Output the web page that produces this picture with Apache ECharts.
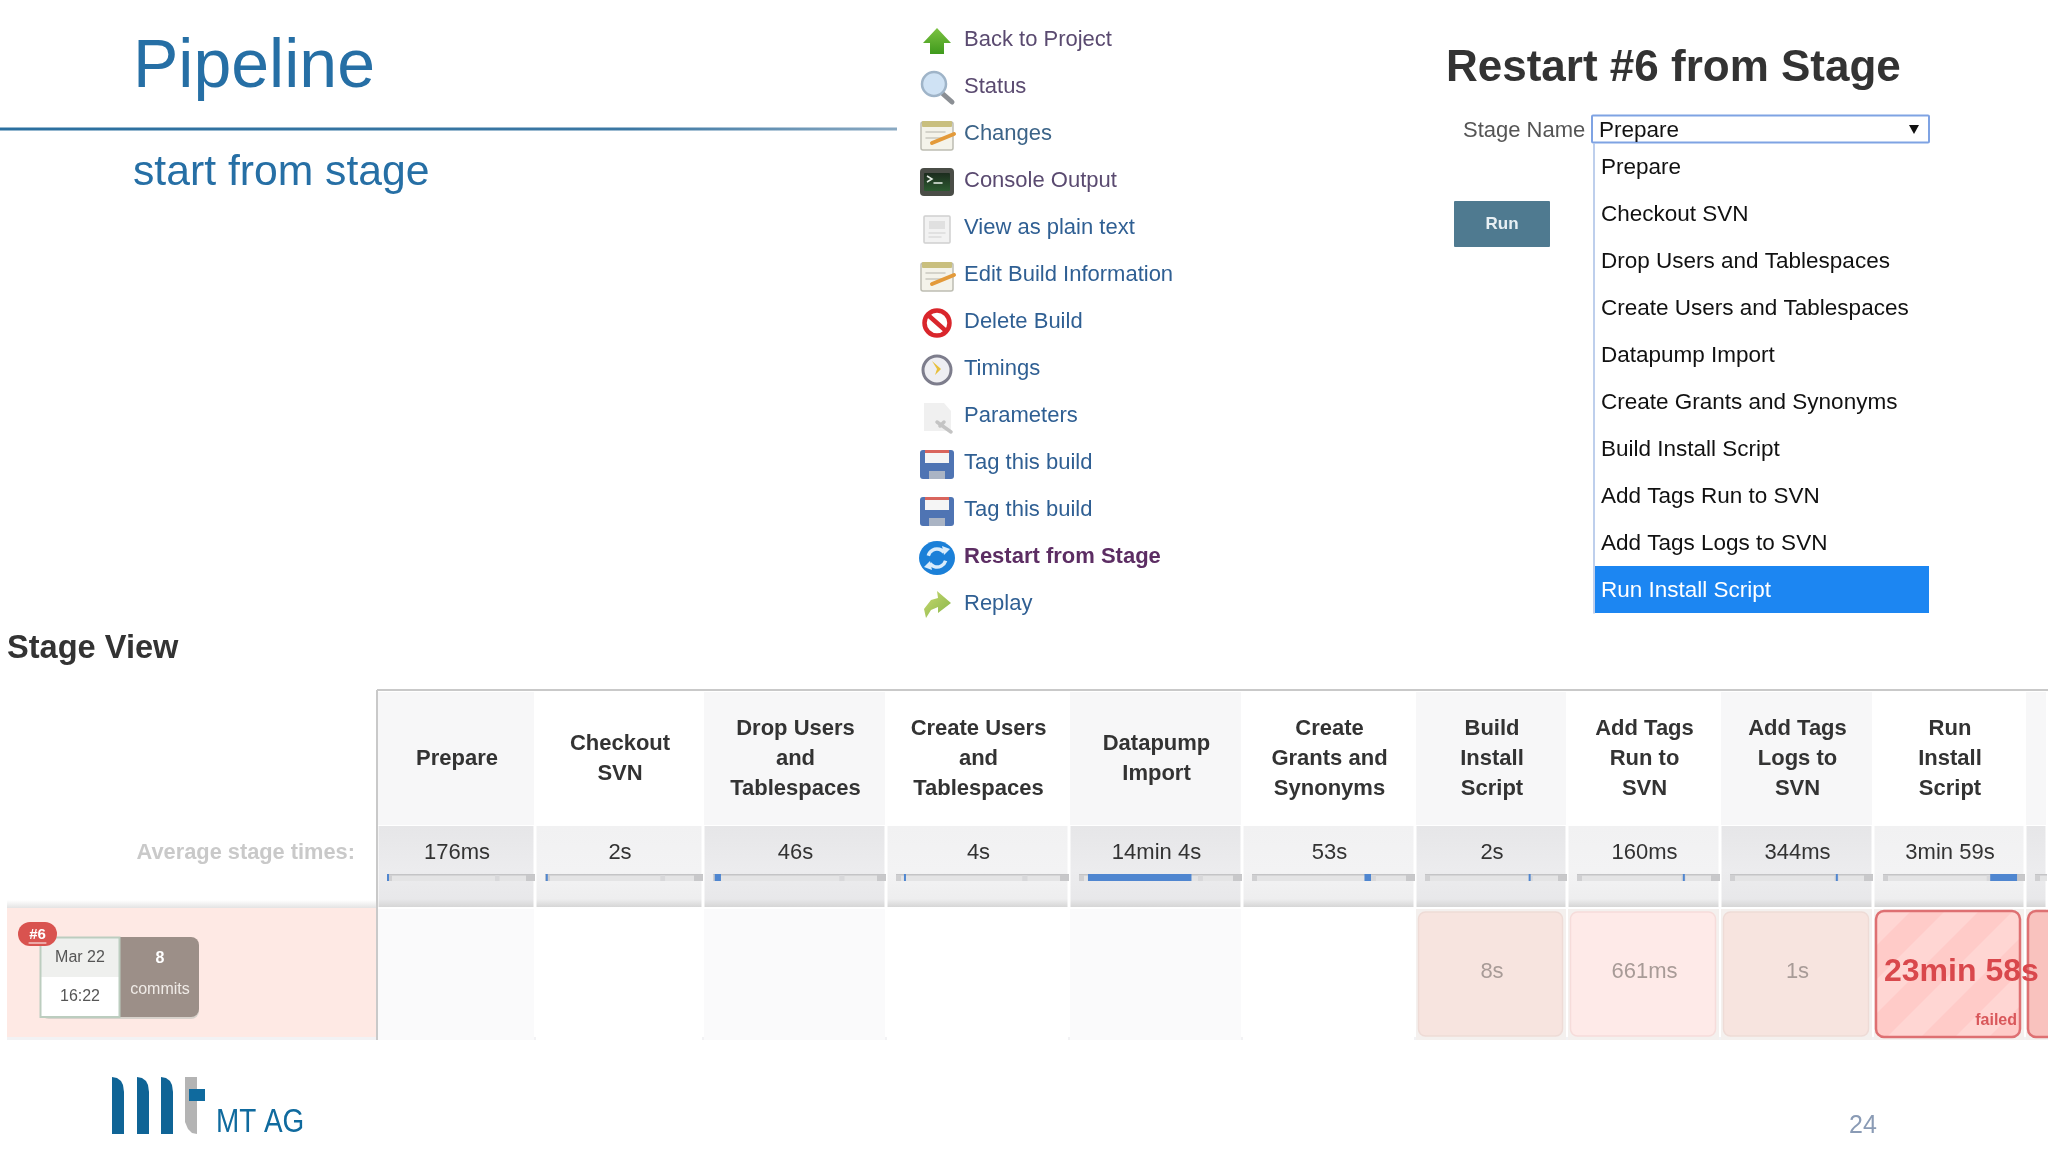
<!DOCTYPE html>
<html>
<head>
<meta charset="utf-8">
<title>Pipeline - start from stage</title>
<script src="https://cdn.jsdelivr.net/npm/echarts@6/dist/echarts.min.js"></script>
<style>
html, body { margin: 0; padding: 0; background: #fff; }
#container { width: 2048px; height: 1152px; }
</style>
</head>
<body>
<div id="container"></div>
<script>
// table data
var stages = ['Prepare', 'Checkout\nSVN', 'Drop Users\nand\nTablespaces', 'Create Users\nand\nTablespaces', 'Datapump\nImport', 'Create\nGrants and\nSynonyms', 'Build\nInstall\nScript', 'Add Tags\nRun to\nSVN', 'Add Tags\nLogs to\nSVN', 'Run\nInstall\nScript', ''];
var avgTimes = ['176ms', '2s', '46s', '4s', '14min 4s', '53s', '2s', '160ms', '344ms', '3min 59s', ''];
// where each stage sits on the run timeline, in percent
var timelineStart = [0, 0.5, 1, 4.6, 5.5, 69, 73, 74, 74, 75.5, 0];
var timelineEnd = [0.5, 1, 4.6, 5.5, 69, 73, 74, 74.5, 74.5, 94.4, 0];
var runTimes = ['', '', '', '', '', '', '8s', '661ms', '1s', '23min 58s', ''];
var runStatus = ['none', 'none', 'none', 'none', 'none', 'none', 'ok', 'ok', 'ok', 'failed', 'failed'];
var menuItems = ['Back to Project', 'Status', 'Changes', 'Console Output', 'View as plain text', 'Edit Build Information', 'Delete Build', 'Timings', 'Parameters', 'Tag this build', 'Tag this build', 'Restart from Stage', 'Replay'];
var menuIcons = ['arrow', 'search', 'note', 'terminal', 'doc', 'note', 'stop', 'clock', 'param', 'floppy', 'floppy', 'restart', 'replay'];
var menuColors = ['#5a4a70', '#5a4a70', '#3c6488', '#5a4a70', '#2f5f93', '#2f5f93', '#2f5f93', '#2f5f93', '#2f5f93', '#2f5f93', '#2f5f93', '#5c2d63', '#2f5f93'];
var stageOptions = ['Prepare', 'Checkout SVN', 'Drop Users and Tablespaces', 'Create Users and Tablespaces', 'Datapump Import', 'Create Grants and Synonyms', 'Build Install Script', 'Add Tags Run to SVN', 'Add Tags Logs to SVN', 'Run Install Script'];

// layout of the table, in px of the axes
var colWidths = [158, 168, 183, 183, 173, 173, 152, 153, 153, 152, 22];
var rowEdges = [0, 135, 217, 350];

var FONT = '"Liberation Sans", Arial, sans-serif';
var LG = echarts.graphic.LinearGradient;

function stripes() {
	var size = 68;
	var c = document.createElement('canvas');
	c.width = size;
	c.height = size;
	var g = c.getContext('2d');
	g.fillStyle = '#ffcbc8';
	g.fillRect(0, 0, size, size);
	g.fillStyle = '#ffd6d3';
	for (var k = -1; k < 2; k++) {
		var o = k * size;
		g.beginPath();
		g.moveTo(o, size);
		g.lineTo(o + size, 0);
		g.lineTo(o + size + size / 2, 0);
		g.lineTo(o + size / 2, size);
		g.closePath();
		g.fill();
	}
	return c;
}
var stripeTile = stripes();

var colStart = [];
var sum = 0;
for (var i = 0; i < colWidths.length; i++) {
	colStart.push(sum);
	sum += colWidths[i];
}
var rows = stages.map(function (s, i) {
	return [colStart[i], colStart[i] + colWidths[i], timelineStart[i], timelineEnd[i]];
});

function renderCells(params, api) {
	var i = params.dataIndex;
	var odd = i % 2 == 0;
	var a = api.coord([api.value(0), rowEdges[0]]);
	var b = api.coord([api.value(1), rowEdges[1]]);
	var c = api.coord([api.value(1), rowEdges[2]]);
	var d = api.coord([api.value(1), rowEdges[3]]);
	var x = a[0], w = b[0] - a[0];
	var kids = [];
	// header
	kids.push({ type: 'rect', shape: { x: x + 1, y: a[1] + 2, width: w - 2, height: b[1] - a[1] - 2 }, style: { fill: odd ? '#f7f7f8' : '#fff' } });
	// average row
	kids.push({ type: 'rect', shape: { x: x + 1.5, y: b[1] + 1, width: w - 3, height: c[1] - b[1] - 1 }, style: {
		fill: new LG(0, 0, 0, 1, [
			{ offset: 0, color: odd ? '#e6e6e8' : '#f1f1f2' },
			{ offset: 0.55, color: odd ? '#ececee' : '#f3f3f4' },
			{ offset: 0.9, color: odd ? '#e8e8ea' : '#eeeeef' },
			{ offset: 1, color: '#d6d6d6' }
		])
	} });
	// timeline track
	var tx = x + 10, tw = w - 10;
	kids.push({ type: 'rect', shape: { x: tx, y: 874, width: tw, height: 7 }, style: { fill: '#e4e4e5' } });
	kids.push({ type: 'rect', shape: { x: tx, y: 874, width: tw, height: 1.5 }, style: { fill: '#c4c4c6' } });
	kids.push({ type: 'rect', shape: { x: tx, y: 875, width: 5, height: 6 }, style: { fill: '#cfcfd1' } });
	if (w > 30) {
		kids.push({ type: 'rect', shape: { x: tx + tw - 9, y: 875, width: 9, height: 6 }, style: { fill: '#c8c8ca' } });
		kids.push({ type: 'rect', shape: { x: tx + tw * 0.73, y: 875, width: tw * 0.03, height: 6 }, style: { fill: '#d8d8da' } });
	}
	var s = api.value(2), e = api.value(3);
	if (e > s) {
		kids.push({ type: 'rect', shape: { x: tx + tw * s / 100, y: 874, width: Math.max(2, tw * (e - s) / 100), height: 7 }, style: { fill: '#4f86d0' } });
	}
	// run row
	var st = runStatus[i];
	kids.push({ type: 'rect', shape: { x: x + 1, y: c[1] + 2, width: w - 2, height: d[1] - c[1] - 2 }, style: { fill: st == 'none' ? (odd ? '#fafafb' : '#fff') : '#f4f0ee' } });
	if (st == 'ok') {
		kids.push({ type: 'rect', shape: { x: x + 3.5, y: 912, width: w - 8, height: 124, r: 7 }, style: { fill: odd ? '#f7e4df' : '#feeae8', stroke: odd ? '#eedbd6' : '#f6dcda', lineWidth: 1.5 } });
	} else if (st == 'failed') {
		var rw = (i == stages.length - 1) ? w + 10 : w - 8;
		kids.push({ type: 'rect', shape: { x: x + 3, y: 911, width: rw, height: 126, r: 8 }, style: {
			fill: i == stages.length - 1 ? '#f9c2be' : { image: stripeTile, repeat: 'repeat' },
			stroke: '#de7072', lineWidth: 2.5
		} });
	}
	return { type: 'group', children: kids };
}

function renderLabels(params, api) {
	var i = params.dataIndex;
	var x0 = api.coord([api.value(0), 0])[0];
	var w = api.coord([api.value(1), 0])[0] - x0;
	var cx = x0 + w / 2 + 1;
	var kids = [];
	var headY = api.coord([0, (rowEdges[0] + rowEdges[1]) / 2])[1];
	kids.push({ type: 'text', style: { x: cx, y: headY + 1.5, text: stages[i], align: 'center', verticalAlign: 'middle', fontFamily: FONT, fontWeight: 'bold', fontSize: 22, lineHeight: 30, fill: '#333' } });
	kids.push({ type: 'text', style: { x: cx, y: 853, text: avgTimes[i], align: 'center', verticalAlign: 'middle', fontFamily: FONT, fontSize: 22, fill: '#333' } });
	if (runStatus[i] == 'ok') {
		kids.push({ type: 'text', style: { x: cx, y: 972, text: runTimes[i], align: 'center', verticalAlign: 'middle', fontFamily: FONT, fontSize: 22, fill: '#a89b97' } });
	} else if (runTimes[i]) {
		kids.push({ type: 'text', style: { x: x0 + 11, y: 972, text: runTimes[i], align: 'left', verticalAlign: 'middle', fontFamily: FONT, fontWeight: 'bold', fontSize: 32, fill: '#d9484c' } });
		kids.push({ type: 'text', style: { x: x0 + w - 8, y: 1021, text: 'failed', align: 'right', verticalAlign: 'middle', fontFamily: FONT, fontWeight: 'bold', fontSize: 16, fill: '#d9575a' } });
	}
	return { type: 'group', children: kids };
}

function txt(x, y, text, size, color, extra) {
	var style = { x: x, y: y, text: text, fontFamily: FONT, fontSize: size, fill: color, align: 'left', verticalAlign: 'middle' };
	for (var k in (extra || {})) {
		style[k] = extra[k];
	}
	return { type: 'text', silent: true, style: style };
}
function box(x, y, w, h, fill, r, stroke, lw) {
	return { type: 'rect', silent: true, shape: { x: x, y: y, width: w, height: h, r: r || 0 }, style: { fill: fill, stroke: stroke || null, lineWidth: lw || 0 } };
}
function seg(x1, y1, x2, y2, color, lw) {
	return { type: 'line', silent: true, shape: { x1: x1, y1: y1, x2: x2, y2: y2 }, style: { stroke: color, lineWidth: lw, lineCap: 'round' } };
}
function poly(points, fill) {
	return { type: 'polygon', silent: true, shape: { points: points }, style: { fill: fill } };
}

// the small Jenkins icons of the side menu
function icon(kind, cx, cy) {
	var c = [];
	if (kind == 'arrow') {
		c.push(poly([[0, -13], [14, 2], [7, 2], [7, 13], [-7, 13], [-7, 2], [-14, 2]], new LG(0, 0, 0, 1, [{ offset: 0, color: '#7cc242' }, { offset: 1, color: '#3f9a1c' }])));
	} else if (kind == 'search') {
		c.push(seg(6, 6, 15, 14, '#8b8f94', 5));
		c.push({ type: 'circle', silent: true, shape: { cx: -3, cy: -4, r: 12 }, style: { fill: '#cfe2f4', stroke: '#9fb4c8', lineWidth: 2.5 } });
	} else if (kind == 'note') {
		c.push(box(-16, -13, 32, 28, '#f4f3ea', 2, '#bdbdb2', 1.5));
		c.push(box(-15, -14, 30, 6, '#c9bf7e', 1));
		c.push(seg(-11, -3, 8, -3, '#c9c9c0', 1.5));
		c.push(seg(-11, 3, 4, 3, '#c9c9c0', 1.5));
		c.push(seg(-5, 8, 17, -1, '#e39a3a', 4));
	} else if (kind == 'terminal') {
		c.push(box(-17, -14, 34, 28, '#4a4d47', 4));
		c.push(box(-13, -9, 26, 18, new LG(0, 0, 0, 1, [{ offset: 0, color: '#1c2c1e' }, { offset: 1, color: '#2c5a30' }]), 1));
		c.push({ type: 'polyline', silent: true, shape: { points: [[-10, -6], [-5, -3], [-10, 0]] }, style: { stroke: '#e8efe8', lineWidth: 1.5, fill: null } });
		c.push(seg(-3, 1, 5, 1, '#e8efe8', 1.5));
	} else if (kind == 'doc') {
		c.push(box(-13, -13, 26, 27, '#f2f2f2', 1, '#d0d0d0', 1.5));
		c.push(box(-8, -8, 16, 8, '#e0e0e0'));
		c.push(seg(-8, 4, 8, 4, '#dcdcdc', 1.5));
		c.push(seg(-8, 8, 4, 8, '#dcdcdc', 1.5));
	} else if (kind == 'stop') {
		c.push({ type: 'circle', silent: true, shape: { cx: 0, cy: 0, r: 12.5 }, style: { fill: '#fff', stroke: '#d9262c', lineWidth: 4.5 } });
		c.push(seg(-9, -8, 9, 8, '#d9262c', 4.5));
	} else if (kind == 'clock') {
		c.push({ type: 'circle', silent: true, shape: { cx: 0, cy: 0, r: 14 }, style: { fill: '#eeeef2', stroke: '#7d7d8c', lineWidth: 3 } });
		c.push(poly([[-5, -9], [4, -1], [-2, 5], [0, -1]], '#e8bf3a'));
	} else if (kind == 'param') {
		c.push(poly([[-13, -14], [7, -14], [14, -6], [14, 14], [-13, 14]], '#f0f0f0'));
		c.push(seg(0, 5, 14, 15, '#c4c4c4', 3.5));
		c.push(seg(3, 9, 7, 5, '#c4c4c4', 3.5));
	} else if (kind == 'floppy') {
		c.push(box(-17, -14, 34, 29, '#4f74b3', 3));
		c.push(box(-12, -14, 24, 13, '#f5f5f5'));
		c.push(box(-12, -14, 24, 3, '#d9655d'));
		c.push(box(-8, 7, 16, 8, '#aab4c4'));
	} else if (kind == 'restart') {
		c.push({ type: 'ellipse', silent: true, shape: { cx: 0, cy: 0, rx: 18, ry: 17 }, style: { fill: '#1b80d8' } });
		c.push({ type: 'arc', silent: true, shape: { cx: 0, cy: 0, r: 9, startAngle: 3.4, endAngle: 5.6 }, style: { stroke: '#d9ecfb', lineWidth: 3.5, fill: null } });
		c.push({ type: 'arc', silent: true, shape: { cx: 0, cy: 0, r: 9, startAngle: 0.3, endAngle: 2.5 }, style: { stroke: '#d9ecfb', lineWidth: 3.5, fill: null } });
		c.push(poly([[5, -12], [13, -9], [7, -3]], '#d9ecfb'));
		c.push(poly([[-5, 12], [-13, 9], [-7, 3]], '#d9ecfb'));
	} else if (kind == 'replay') {
		c.push(poly([[0, -14], [14, -2], [1, 8], [1, 2], [-6, 5], [-11, 13], [-13, 4], [-6, -5], [1, -7]], new LG(0, 0, 1, 1, [{ offset: 0, color: '#c9d96f' }, { offset: 1, color: '#86b54a' }])));
	}
	return { type: 'group', silent: true, x: cx, y: cy, children: c };
}

function logoBar(x, fill) {
	return poly([[x, 1077], [x + 5, 1078], [x + 9, 1081], [x + 11, 1085], [x + 12, 1092], [x + 12, 1134], [x, 1134]], fill);
}

function slideGraphics() {
	var g = [];
	// slide head
	g.push(txt(133, 68, 'Pipeline', 68, '#266fa5'));
	g.push(box(0, 127.5, 897, 3, new LG(0, 0, 1, 0, [{ offset: 0, color: '#2a6f9f' }, { offset: 0.7, color: '#3b77a3' }, { offset: 1, color: '#8aa9c2' }])));
	g.push(txt(133, 173, 'start from stage', 42.7, '#266fa5'));
	// side menu
	menuItems.forEach(function (m, i) {
		var y = 40 + 47 * i;
		g.push(icon(menuIcons[i], 937, y + 1));
		g.push(txt(964, y, m, 22, menuColors[i], m == 'Restart from Stage' ? { fontWeight: 'bold' } : {}));
	});
	// restart form
	g.push(txt(1446, 69, 'Restart #6 from Stage', 44, '#333', { fontWeight: 'bold' }));
	g.push(txt(1463, 130.5, 'Stage Name', 22, '#555'));
	g.push(box(1592, 115.5, 337, 27, '#fff', 1, '#7fa3e3', 2));
	g.push(txt(1599, 130.5, 'Prepare', 22.5, '#111'));
	g.push(poly([[1909, 125], [1919, 125], [1914, 134]], '#111'));
	g.push(box(1454, 201, 96, 46, '#4f7a90', 1));
	g.push(txt(1502, 224, 'Run', 17, '#e8f0f4', { fontWeight: 'bold', align: 'center' }));
	g.push(seg(1594, 144, 1594, 613, '#a9bfe6', 1.5));
	g.push(box(1595, 566, 334, 47, '#1c86f2'));
	stageOptions.forEach(function (o, i) {
		g.push(txt(1601, 167.5 + 47 * i, o, 22.5, i == stageOptions.length - 1 ? '#fff' : '#111'));
	});
	// left part of the stage view
	g.push(txt(7, 649, 'Stage View', 32.6, '#333', { fontWeight: 'bold' }));
	g.push(txt(355, 852.5, 'Average stage times:', 21.8, '#c9c9c9', { fontWeight: 'bold', align: 'right' }));
	g.push(box(7, 900, 370, 8, new LG(0, 0, 0, 1, [{ offset: 0, color: '#fff' }, { offset: 1, color: '#e3e3e3' }])));
	g.push(box(7, 908, 370, 129, '#fee9e4'));
	g.push(box(7, 1037, 2041, 3, '#f2f2f4'));
	// build card
	g.push(box(41, 940, 158, 79, '#d8d2cc', 8));
	g.push(box(120, 937, 79, 80, '#9c8f88', 8));
	g.push(box(120, 937, 10, 80, '#9c8f88'));
	g.push(box(40, 937, 80, 40, '#eff0ee'));
	g.push(box(40, 977, 80, 40, '#fff'));
	g.push(box(40.5, 937.5, 79, 79.5, 'rgba(0,0,0,0)', 0, '#bccdbf', 2));
	g.push(txt(80, 958, 'Mar 22', 16, '#555', { align: 'center' }));
	g.push(txt(80, 997, '16:22', 16, '#555', { align: 'center' }));
	g.push(txt(160, 959, '8', 16, '#fff', { fontWeight: 'bold', align: 'center' }));
	g.push(txt(160, 990, 'commits', 16, '#f0ebe7', { align: 'center' }));
	g.push(box(18, 922, 39, 24, '#d9534f', 12));
	g.push(txt(37.5, 935, '#6', 15, '#fff', { fontWeight: 'bold', align: 'center' }));
	g.push(seg(29, 943, 46, 943, '#fff', 1));
	// logo and page number
	g.push(logoBar(112, '#0f6496'));
	g.push(logoBar(137, '#0f6496'));
	g.push(logoBar(161, '#0f6496'));
	g.push(poly([[185, 1077], [197, 1077], [197, 1134], [192, 1133], [188, 1129], [185, 1122]], '#b4b4b4'));
	g.push(box(189, 1089, 16, 12, '#0f6a9e'));
	g.push({ type: 'text', silent: true, x: 216, y: 1123, scaleX: 0.82, style: { x: 0, y: 0, text: 'MT AG', fontFamily: FONT, fontSize: 34, fill: '#0f6a9e', align: 'left', verticalAlign: 'middle' } });
	g.push(txt(1863, 1126, '24', 25, '#8a9bb5', { align: 'center' }));
	return g;
}

var dom = document.getElementById('container');
var myChart = echarts.init(dom);
var option = {
	animation: false,
	backgroundColor: '#fff',
	grid: { left: 377, top: 690, width: 1671, height: 350 },
	xAxis: { type: 'value', min: 0, max: 1671, show: false },
	yAxis: { type: 'value', min: 0, max: 350, inverse: true, show: false },
	graphic: slideGraphics(),
	series: [
		{ type: 'custom', z: 2, silent: true, clip: true, data: rows, renderItem: renderCells, encode: { x: [0, 1] } },
		{ type: 'custom', z: 3, silent: true, clip: true, data: rows, renderItem: renderLabels, encode: { x: [0, 1] } },
		{
			// table frame
			type: 'line', z: 4, silent: true, symbol: 'none', data: [],
			markLine: {
				silent: true, symbol: 'none', animation: false, label: { show: false },
				lineStyle: { color: '#c9c9c9', width: 2, type: 'solid' },
				data: [{ yAxis: 0 }, { xAxis: 0 }]
			}
		}
	]
};
myChart.setOption(option);
</script>
</body>
</html>
